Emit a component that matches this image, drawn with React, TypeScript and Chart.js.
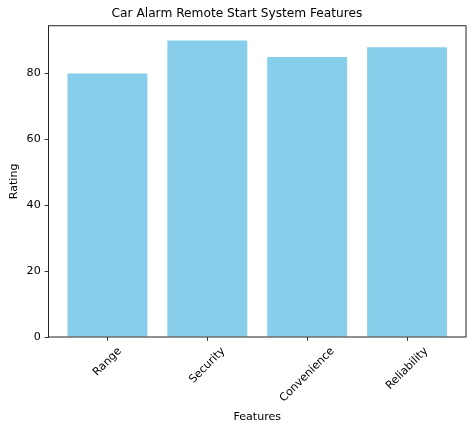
import React, { useRef, useEffect } from 'react';
import { Chart, registerables } from 'chart.js';

Chart.register(...registerables);

const features = ['Range', 'Security', 'Convenience', 'Reliability'];
const ratings = [80, 90, 85, 88];
const yTicks = [0, 20, 40, 60, 80];

const FONT = "'DejaVu Sans', sans-serif";
const LABEL_SIZE = 11.1;

// draws the rotated x labels centred on their ticks (matplotlib style) and the frame
const framePlugin = {
  id: 'frame',
  afterDraw(chart: any) {
    const { ctx, chartArea, scales } = chart;
    const xs = scales.x;
    ctx.save();
    ctx.strokeStyle = '#222';
    ctx.lineWidth = 1;
    ctx.strokeRect(chartArea.left, chartArea.top, chartArea.right - chartArea.left, chartArea.bottom - chartArea.top);

    ctx.font = `${LABEL_SIZE}px ${FONT}`;
    ctx.fillStyle = '#000';
    ctx.textAlign = 'center';
    ctx.textBaseline = 'middle';
    const y0 = xs.top + 7.8;
    const h = LABEL_SIZE * 1.164;
    features.forEach((label, i) => {
      const w = ctx.measureText(label).width;
      const x = xs.getPixelForValue(i);
      ctx.save();
      ctx.translate(x, y0 + ((w + h) * Math.SQRT1_2) / 2);
      ctx.rotate(-Math.PI / 4);
      ctx.fillText(label, 0, 0);
      ctx.restore();
    });
    ctx.restore();
  },
};

const FeatureChart: React.FC = () => {
  const canvasRef = useRef<HTMLCanvasElement>(null);
  const chartRef = useRef<Chart | null>(null);

  useEffect(() => {
    document.body.style.margin = '0';
    if (!canvasRef.current) return;
    const ctx = canvasRef.current.getContext('2d');
    if (!ctx) return;
    if (chartRef.current) chartRef.current.destroy();

    chartRef.current = new Chart(ctx, {
      type: 'bar',
      data: {
        datasets: [
          {
            label: 'Rating',
            data: features.map((_, i) => ({ x: i, y: ratings[i] })),
            backgroundColor: '#87CEEB',
            barPercentage: 0.8,
            categoryPercentage: 1.0,
          },
        ],
      },
      options: {
        animation: false,
        responsive: false,
        layout: { padding: { left: 8, right: 8, top: 0, bottom: 0 } },
        plugins: {
          legend: { display: false },
          tooltip: { enabled: false },
          title: {
            display: true,
            text: 'Car Alarm Remote Start System Features',
            color: '#000',
            font: { family: FONT, size: 12.2, weight: 'normal' },
            padding: { top: 6.7, bottom: 4.4 },
          },
        },
        scales: {
          x: {
            type: 'linear',
            offset: false,
            min: -0.59,
            max: 3.59,
            afterBuildTicks: (s: any) => {
              s.ticks = features.map((_, i) => ({ value: i }));
            },
            afterFit: (s: any) => {
              s.height = 95;
            },
            ticks: { display: false },
            grid: { offset: false, drawOnChartArea: false, drawTicks: true, tickLength: 3.9, color: '#222', lineWidth: 0.9 },
            border: { display: false },
            title: {
              display: true,
              text: 'Features',
              color: '#000',
              font: { family: FONT, size: LABEL_SIZE },
              padding: { top: 0, bottom: 8.6 },
            },
          },
          y: {
            type: 'linear',
            min: 0,
            max: 94.5,
            afterBuildTicks: (s: any) => {
              s.ticks = yTicks.map((v) => ({ value: v }));
            },
            afterFit: (s: any) => {
              s.width = 40.5;
            },
            ticks: { color: '#000', font: { family: FONT, size: LABEL_SIZE }, padding: 3.9 },
            grid: { drawOnChartArea: false, drawTicks: true, tickLength: 3.9, color: '#222', lineWidth: 0.9 },
            border: { display: false },
            title: {
              display: true,
              text: 'Rating',
              color: '#000',
              font: { family: FONT, size: LABEL_SIZE },
              padding: { top: -0.7, bottom: 0 },
            },
          },
        },
      },
      plugins: [framePlugin],
    } as any);

    return () => {
      if (chartRef.current) {
        chartRef.current.destroy();
        chartRef.current = null;
      }
    };
  }, []);

  return (
    <div style={{ width: '474px', height: '432px', background: '#fff' }}>
      <canvas ref={canvasRef} width={474} height={432} style={{ display: 'block' }} />
    </div>
  );
};

export default function App() {
  return <FeatureChart />;
}
